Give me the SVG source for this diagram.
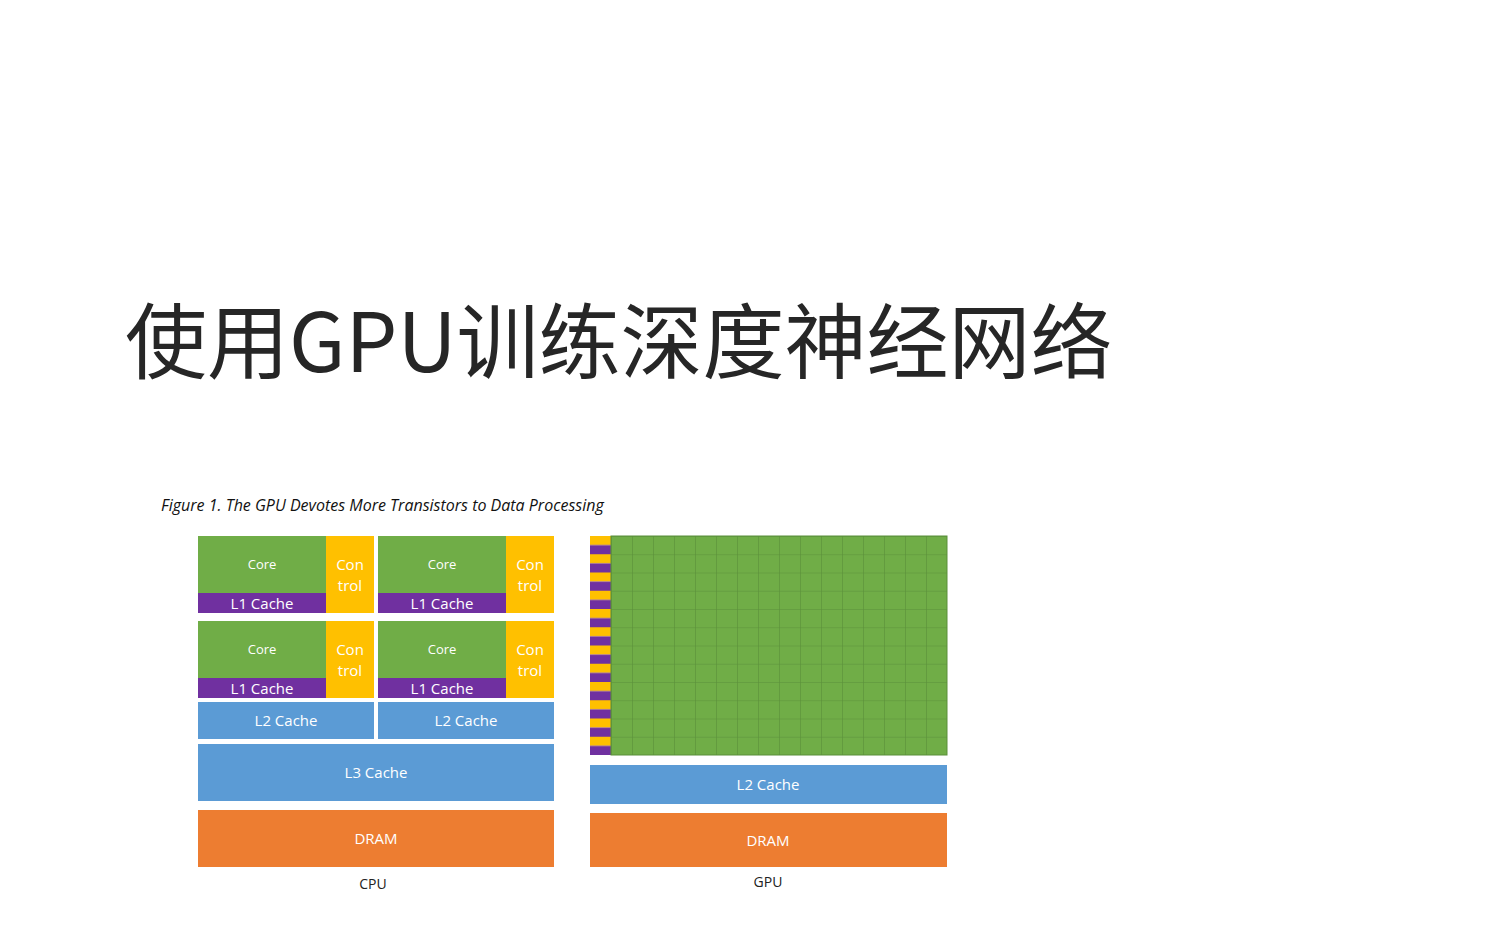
<svg xmlns="http://www.w3.org/2000/svg" width="1509" height="944" viewBox="0 0 1509 944">
<style>
.t{font-family:"Open Sans","Noto Sans",sans-serif;fill:#fff;text-anchor:middle}
.core{fill:#70ad47}.ctl{fill:#ffc000}.l1{fill:#7030a0}.blue{fill:#5b9bd5}.dram{fill:#ed7d31}
.lbl{font-family:"Open Sans","Noto Sans",sans-serif;fill:#222;font-size:14px;text-anchor:middle}
</style>
<defs>
<pattern id="grid" x="611" y="536" width="21" height="18.25" patternUnits="userSpaceOnUse">
<rect width="21" height="18.25" fill="#70ad47"/>
<path d="M0 0H21M0 0V18.25" stroke="#5a8f3a" stroke-width="1.2" fill="none"/>
</pattern>
<pattern id="strip" x="590" y="536" width="21" height="18.25" patternUnits="userSpaceOnUse">
<rect width="21" height="9.1" fill="#ffc000"/>
<rect y="9.1" width="21" height="9.15" fill="#7030a0"/>
</pattern>
</defs>
<rect width="1509" height="944" fill="#fff"/>
<text x="125" y="372" font-family="'Noto Sans CJK SC','Noto Sans',sans-serif" font-size="82" fill="#262626">使用GPU训练深度神经网络</text>
<text x="161" y="511" font-family="'Open Sans','Noto Sans',sans-serif" font-style="italic" font-size="16" fill="#111">Figure 1. The GPU Devotes More Transistors to Data Processing</text>
<g id="cpu">
<g id="cpu-c1"><rect class="core" x="198" y="536" width="128" height="57"/><rect class="l1" x="198" y="593" width="128" height="20"/><rect class="ctl" x="326" y="536" width="48" height="77"/>
<text class="t" x="262" y="569" font-size="13">Core</text><text class="t" x="262" y="609" font-size="15">L1 Cache</text><text class="t" x="350" y="570" font-size="15">Con</text><text class="t" x="350" y="591" font-size="15">trol</text></g>
<g id="cpu-c2"><rect class="core" x="378" y="536" width="128" height="57"/><rect class="l1" x="378" y="593" width="128" height="20"/><rect class="ctl" x="506" y="536" width="48" height="77"/>
<text class="t" x="442" y="569" font-size="13">Core</text><text class="t" x="442" y="609" font-size="15">L1 Cache</text><text class="t" x="530" y="570" font-size="15">Con</text><text class="t" x="530" y="591" font-size="15">trol</text></g>
<g id="cpu-c3"><rect class="core" x="198" y="621" width="128" height="57"/><rect class="l1" x="198" y="678" width="128" height="20"/><rect class="ctl" x="326" y="621" width="48" height="77"/>
<text class="t" x="262" y="654" font-size="13">Core</text><text class="t" x="262" y="694" font-size="15">L1 Cache</text><text class="t" x="350" y="655" font-size="15">Con</text><text class="t" x="350" y="676" font-size="15">trol</text></g>
<g id="cpu-c4"><rect class="core" x="378" y="621" width="128" height="57"/><rect class="l1" x="378" y="678" width="128" height="20"/><rect class="ctl" x="506" y="621" width="48" height="77"/>
<text class="t" x="442" y="654" font-size="13">Core</text><text class="t" x="442" y="694" font-size="15">L1 Cache</text><text class="t" x="530" y="655" font-size="15">Con</text><text class="t" x="530" y="676" font-size="15">trol</text></g>
<g id="cpu-l2a"><rect class="blue" x="198" y="702" width="176" height="37"/><text class="t" x="286" y="726" font-size="15">L2 Cache</text></g>
<g id="cpu-l2b"><rect class="blue" x="378" y="702" width="176" height="37"/><text class="t" x="466" y="726" font-size="15">L2 Cache</text></g>
<g id="cpu-l3"><rect class="blue" x="198" y="744" width="356" height="57"/><text class="t" x="376" y="778" font-size="15">L3 Cache</text></g>
<g id="cpu-dram"><rect class="dram" x="198" y="810" width="356" height="57"/><text class="t" x="376" y="844" font-size="15">DRAM</text></g>
<text class="lbl" x="373" y="889">CPU</text>
</g>
<g id="gpu">
<rect x="590" y="536" width="21" height="219" fill="url(#strip)"/>
<rect x="611" y="536" width="336" height="219" fill="url(#grid)" stroke="#5a8f3a" stroke-width="1"/>
<g id="gpu-l2"><rect class="blue" x="590" y="765" width="357" height="39"/><text class="t" x="768" y="790" font-size="15">L2 Cache</text></g>
<g id="gpu-dram"><rect class="dram" x="590" y="813" width="357" height="54"/><text class="t" x="768" y="846" font-size="15">DRAM</text></g>
<text class="lbl" x="768" y="887">GPU</text>
</g>
<g id="connectors"/>
</svg>
